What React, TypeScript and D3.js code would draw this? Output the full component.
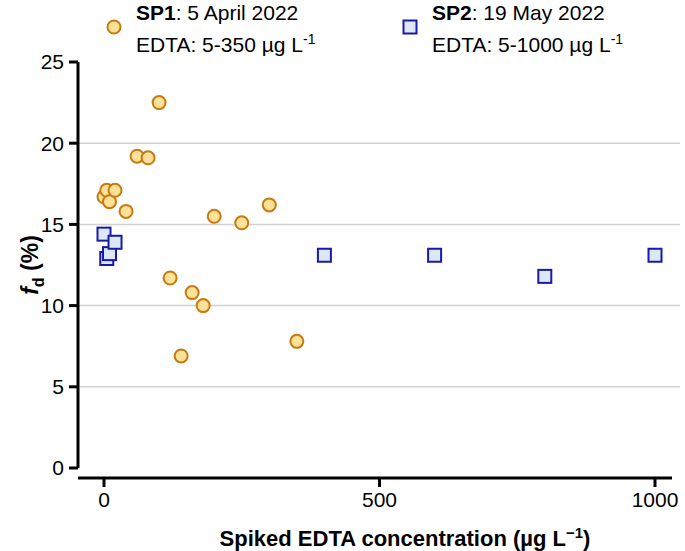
import React from "react";
import * as d3 from "d3";

const sp1X = [0, 5, 10, 20, 40, 60, 80, 100, 120, 140, 160, 180, 200, 250, 300, 350];
const sp1Y = [16.7, 17.1, 16.4, 17.1, 15.8, 19.2, 19.1, 22.5, 11.7, 6.9, 10.8, 10.0, 15.5, 15.1, 16.2, 7.8];
const sp2X = [0, 5, 10, 20, 400, 600, 800, 1000];
const sp2Y = [14.4, 12.9, 13.2, 13.9, 13.1, 13.1, 11.8, 13.1];
const xTicks = [0, 500, 1000];
const yTicks = [0, 5, 10, 15, 20, 25];

export default function App() {
  const x = d3.scaleLinear().domain([0, 1000]).range([104, 655]);
  const y = d3.scaleLinear().domain([0, 25]).range([468, 62]);
  const font = "Liberation Sans, Arial, sans-serif";
  const xAxisY = 478, yAxisX = 78;
  return (
    <svg width={685} height={551} style={{ position: "absolute", left: 0, top: 0 }} fontFamily={font}>
      {yTicks.filter(t => t > 0 && t < 25).map(t => (
        <line key={t} x1={yAxisX} x2={680} y1={y(t)} y2={y(t)} stroke="#d0d0d0" strokeWidth={1.5} />
      ))}
      <line x1={yAxisX} x2={yAxisX} y1={y(25)} y2={y(0)} stroke="#000" strokeWidth={3} />
      {yTicks.map(t => (
        <g key={t}>
          <line x1={yAxisX - 9} x2={yAxisX} y1={y(t)} y2={y(t)} stroke="#000" strokeWidth={3} />
          <text x={yAxisX - 14} y={y(t)} dy="0.35em" textAnchor="end" fontSize={21}>{t}</text>
        </g>
      ))}
      <line x1={yAxisX} x2={672} y1={xAxisY} y2={xAxisY} stroke="#000" strokeWidth={3} />
      {xTicks.map(t => (
        <g key={t}>
          <line x1={x(t)} x2={x(t)} y1={xAxisY} y2={xAxisY + 9} stroke="#000" strokeWidth={3} />
          <text x={x(t)} y={xAxisY + 29} textAnchor="middle" fontSize={21}>{t}</text>
        </g>
      ))}
      <text x={405} y={546} textAnchor="middle" fontSize={22} fontWeight="bold">
        Spiked EDTA concentration (µg L<tspan dy={-8} fontSize={15}>−1</tspan><tspan dy={8}>)</tspan>
      </text>
      <text transform="translate(38,265) rotate(-90)" textAnchor="middle" fontSize={23} fontWeight="bold">
        <tspan fontStyle="italic">f</tspan><tspan dy={6} fontSize={16}>d</tspan><tspan dy={-6}> (%)</tspan>
      </text>
      {sp1X.map((v, i) => (
        <circle key={i} cx={x(v)} cy={y(sp1Y[i])} r={6.5} fill="#fde196" stroke="#c87912" strokeWidth={2} />
      ))}
      {sp2X.map((v, i) => (
        <rect key={i} x={x(v) - 6.5} y={y(sp2Y[i]) - 6.5} width={13} height={13} fill="#dde8f6" stroke="#1a1aa8" strokeWidth={2} />
      ))}
      <circle cx={114} cy={27} r={6.5} fill="#fde196" stroke="#c87912" strokeWidth={2} />
      <text x={136} y={20} fontSize={21}><tspan fontWeight="bold">SP1</tspan>: 5 April 2022</text>
      <text x={136} y={52} fontSize={21}>EDTA: 5-350 µg L<tspan dy={-8} fontSize={14}>-1</tspan></text>
      <rect x={403.5} y={20.5} width={13} height={13} fill="#dde8f6" stroke="#1a1aa8" strokeWidth={2} />
      <text x={432} y={20} fontSize={21}><tspan fontWeight="bold">SP2</tspan>: 19 May 2022</text>
      <text x={432} y={52} fontSize={21}>EDTA: 5-1000 µg L<tspan dy={-8} fontSize={14}>-1</tspan></text>
    </svg>
  );
}
